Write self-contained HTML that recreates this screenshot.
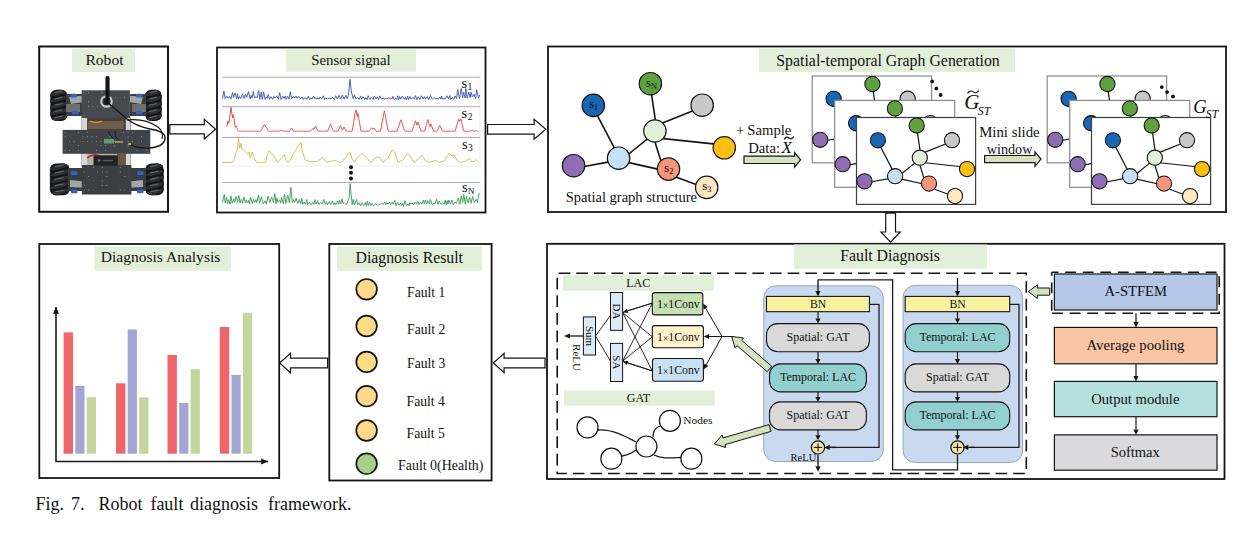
<!DOCTYPE html>
<html><head><meta charset="utf-8"><style>html,body{margin:0;padding:0;background:#fff;width:1256px;height:534px;overflow:hidden}svg{display:block}text{font-family:"Liberation Serif",serif}</style></head>
<body><svg width="1256" height="534" viewBox="0 0 1256 534" font-family='"Liberation Serif", serif'>
<rect x="0" y="0" width="1256" height="534" fill="#ffffff"/>
<rect x="39.2" y="46.5" width="128.8" height="165.3" rx="0" fill="none" stroke="#141414" stroke-width="2" />
<rect x="72.0" y="49.0" width="63.0" height="23.0" rx="0" fill="#e2efd9" stroke="none" stroke-width="0" />
<text x="85.4" y="64.5" font-size="15.6" text-anchor="start" fill="#111111" >Robot</text>
<rect x="81" y="117" width="50" height="49" fill="#4a3e32"/>
<rect x="88" y="121" width="36" height="8" fill="#6e5d4a"/>
<rect x="81.2" y="117" width="5.9" height="49" fill="#d6d7da"/>
<rect x="125.8" y="117" width="4.9" height="49" fill="#d6d7da"/>
<rect x="87" y="153" width="38" height="12" fill="#b9b2a6"/>
<rect x="117" y="154" width="8" height="11" fill="#6b5642"/>
<path d="M87 158 Q93 153 100 156" fill="none" stroke="#c0302a" stroke-width="1.6"/>
<path d="M90 121 Q96 124 102 121" fill="none" stroke="#d0a030" stroke-width="1.2"/>
<clipPath id="wc1"><rect x="50.3" y="89.7" width="17.10000000000001" height="31.299999999999997" rx="6"/></clipPath>
<rect x="50.3" y="89.7" width="17.10000000000001" height="31.299999999999997" rx="6" fill="#1b1c1e"/>
<g clip-path="url(#wc1)">
<ellipse cx="58.9" cy="92.8" rx="9.4" ry="2.8" transform="rotate(-15 58.9 92.8)" fill="#2e2f33" stroke="#0e0e0e" stroke-width="0.7"/>
<path d="M54.6 92.7 L62.3 91.1" stroke="#6a6c70" stroke-width="1.0"/>
<ellipse cx="58.9" cy="99.1" rx="9.4" ry="2.8" transform="rotate(-15 58.9 99.1)" fill="#2e2f33" stroke="#0e0e0e" stroke-width="0.7"/>
<path d="M54.6 99.0 L62.3 97.3" stroke="#6a6c70" stroke-width="1.0"/>
<ellipse cx="58.9" cy="105.3" rx="9.4" ry="2.8" transform="rotate(-15 58.9 105.3)" fill="#2e2f33" stroke="#0e0e0e" stroke-width="0.7"/>
<path d="M54.6 105.2 L62.3 103.6" stroke="#6a6c70" stroke-width="1.0"/>
<ellipse cx="58.9" cy="111.6" rx="9.4" ry="2.8" transform="rotate(-15 58.9 111.6)" fill="#2e2f33" stroke="#0e0e0e" stroke-width="0.7"/>
<path d="M54.6 111.5 L62.3 109.9" stroke="#6a6c70" stroke-width="1.0"/>
<ellipse cx="58.9" cy="117.9" rx="9.4" ry="2.8" transform="rotate(-15 58.9 117.9)" fill="#2e2f33" stroke="#0e0e0e" stroke-width="0.7"/>
<path d="M54.6 117.7 L62.3 116.1" stroke="#6a6c70" stroke-width="1.0"/>
</g>
<clipPath id="wc2"><rect x="145.2" y="89.7" width="16.5" height="31.299999999999997" rx="6"/></clipPath>
<rect x="145.2" y="89.7" width="16.5" height="31.299999999999997" rx="6" fill="#1b1c1e"/>
<g clip-path="url(#wc2)">
<ellipse cx="153.4" cy="92.8" rx="9.1" ry="2.8" transform="rotate(-15 153.4 92.8)" fill="#2e2f33" stroke="#0e0e0e" stroke-width="0.7"/>
<path d="M149.3 92.7 L156.8 91.1" stroke="#6a6c70" stroke-width="1.0"/>
<ellipse cx="153.4" cy="99.1" rx="9.1" ry="2.8" transform="rotate(-15 153.4 99.1)" fill="#2e2f33" stroke="#0e0e0e" stroke-width="0.7"/>
<path d="M149.3 99.0 L156.8 97.3" stroke="#6a6c70" stroke-width="1.0"/>
<ellipse cx="153.4" cy="105.3" rx="9.1" ry="2.8" transform="rotate(-15 153.4 105.3)" fill="#2e2f33" stroke="#0e0e0e" stroke-width="0.7"/>
<path d="M149.3 105.2 L156.8 103.6" stroke="#6a6c70" stroke-width="1.0"/>
<ellipse cx="153.4" cy="111.6" rx="9.1" ry="2.8" transform="rotate(-15 153.4 111.6)" fill="#2e2f33" stroke="#0e0e0e" stroke-width="0.7"/>
<path d="M149.3 111.5 L156.8 109.9" stroke="#6a6c70" stroke-width="1.0"/>
<ellipse cx="153.4" cy="117.9" rx="9.1" ry="2.8" transform="rotate(-15 153.4 117.9)" fill="#2e2f33" stroke="#0e0e0e" stroke-width="0.7"/>
<path d="M149.3 117.7 L156.8 116.1" stroke="#6a6c70" stroke-width="1.0"/>
</g>
<clipPath id="wc3"><rect x="49.9" y="163.6" width="19.699999999999996" height="31.599999999999994" rx="6"/></clipPath>
<rect x="49.9" y="163.6" width="19.699999999999996" height="31.599999999999994" rx="6" fill="#1b1c1e"/>
<g clip-path="url(#wc3)">
<ellipse cx="59.8" cy="166.8" rx="10.8" ry="2.8" transform="rotate(-15 59.8 166.8)" fill="#2e2f33" stroke="#0e0e0e" stroke-width="0.7"/>
<path d="M54.8 166.6 L63.7 165.0" stroke="#6a6c70" stroke-width="1.0"/>
<ellipse cx="59.8" cy="173.1" rx="10.8" ry="2.8" transform="rotate(-15 59.8 173.1)" fill="#2e2f33" stroke="#0e0e0e" stroke-width="0.7"/>
<path d="M54.8 173.0 L63.7 171.3" stroke="#6a6c70" stroke-width="1.0"/>
<ellipse cx="59.8" cy="179.4" rx="10.8" ry="2.8" transform="rotate(-15 59.8 179.4)" fill="#2e2f33" stroke="#0e0e0e" stroke-width="0.7"/>
<path d="M54.8 179.3 L63.7 177.6" stroke="#6a6c70" stroke-width="1.0"/>
<ellipse cx="59.8" cy="185.7" rx="10.8" ry="2.8" transform="rotate(-15 59.8 185.7)" fill="#2e2f33" stroke="#0e0e0e" stroke-width="0.7"/>
<path d="M54.8 185.6 L63.7 184.0" stroke="#6a6c70" stroke-width="1.0"/>
<ellipse cx="59.8" cy="192.0" rx="10.8" ry="2.8" transform="rotate(-15 59.8 192.0)" fill="#2e2f33" stroke="#0e0e0e" stroke-width="0.7"/>
<path d="M54.8 191.9 L63.7 190.3" stroke="#6a6c70" stroke-width="1.0"/>
</g>
<clipPath id="wc4"><rect x="145.4" y="163.6" width="18.299999999999983" height="31.599999999999994" rx="6"/></clipPath>
<rect x="145.4" y="163.6" width="18.299999999999983" height="31.599999999999994" rx="6" fill="#1b1c1e"/>
<g clip-path="url(#wc4)">
<ellipse cx="154.6" cy="166.8" rx="10.1" ry="2.8" transform="rotate(-15 154.6 166.8)" fill="#2e2f33" stroke="#0e0e0e" stroke-width="0.7"/>
<path d="M150.0 166.6 L158.2 165.0" stroke="#6a6c70" stroke-width="1.0"/>
<ellipse cx="154.6" cy="173.1" rx="10.1" ry="2.8" transform="rotate(-15 154.6 173.1)" fill="#2e2f33" stroke="#0e0e0e" stroke-width="0.7"/>
<path d="M150.0 173.0 L158.2 171.3" stroke="#6a6c70" stroke-width="1.0"/>
<ellipse cx="154.6" cy="179.4" rx="10.1" ry="2.8" transform="rotate(-15 154.6 179.4)" fill="#2e2f33" stroke="#0e0e0e" stroke-width="0.7"/>
<path d="M150.0 179.3 L158.2 177.6" stroke="#6a6c70" stroke-width="1.0"/>
<ellipse cx="154.6" cy="185.7" rx="10.1" ry="2.8" transform="rotate(-15 154.6 185.7)" fill="#2e2f33" stroke="#0e0e0e" stroke-width="0.7"/>
<path d="M150.0 185.6 L158.2 184.0" stroke="#6a6c70" stroke-width="1.0"/>
<ellipse cx="154.6" cy="192.0" rx="10.1" ry="2.8" transform="rotate(-15 154.6 192.0)" fill="#2e2f33" stroke="#0e0e0e" stroke-width="0.7"/>
<path d="M150.0 191.9 L158.2 190.3" stroke="#6a6c70" stroke-width="1.0"/>
</g>
<path d="M66 94 L82 94 L82 116 L66 116 Z" fill="#3a3c40"/>
<path d="M69 97 L89 95 L90 101 L71 104 Z" fill="#a3a5a8"/>
<path d="M66 104 L80 104 L80 112 L66 112 Z" fill="#6d6f73"/>
<path d="M130 94 L146 94 L146 116 L130 116 Z" fill="#3a3c40"/>
<path d="M124 95 L143 97 L141 104 L123 101 Z" fill="#a3a5a8"/>
<path d="M132 104 L146 104 L146 112 L132 112 Z" fill="#6d6f73"/>
<path d="M68 168 L82 168 L82 191 L68 191 Z" fill="#3a3c40"/>
<path d="M70 180 L88 182 L88 188 L70 187 Z" fill="#a3a5a8"/>
<path d="M131 168 L146 168 L146 191 L131 191 Z" fill="#3a3c40"/>
<path d="M124 182 L143 180 L143 187 L124 188 Z" fill="#a3a5a8"/>
<rect x="70.4" y="93.8" width="6.5" height="3.6" rx="1.2" fill="#2f66c4"/>
<rect x="72" y="111" width="6.5" height="3.6" rx="1.2" fill="#2f66c4"/>
<rect x="136" y="93.8" width="6.5" height="3.6" rx="1.2" fill="#2f66c4"/>
<rect x="136" y="111" width="6.5" height="3.6" rx="1.2" fill="#2f66c4"/>
<rect x="71" y="171.3" width="6.5" height="3.6" rx="1.2" fill="#2f66c4"/>
<rect x="71" y="189.6" width="6.5" height="3.6" rx="1.2" fill="#2f66c4"/>
<rect x="137" y="171.3" width="6.5" height="3.6" rx="1.2" fill="#2f66c4"/>
<rect x="137" y="189.6" width="6.5" height="3.6" rx="1.2" fill="#2f66c4"/>
<rect x="81.6" y="90.3" width="48.3" height="27.7" fill="#46494e"/>
<rect x="81.8" y="165" width="49.6" height="29.5" fill="#3c3f44"/>
<rect x="62.6" y="129.9" width="87.7" height="23.9" fill="#404348"/>
<rect x="83.6" y="92.3" width="0.9" height="0.9" fill="#9a9da2"/>
<rect x="83.6" y="114.8" width="0.9" height="0.9" fill="#9a9da2"/>
<rect x="88.1" y="92.3" width="0.9" height="0.9" fill="#9a9da2"/>
<rect x="88.1" y="101.3" width="0.9" height="0.9" fill="#9a9da2"/>
<rect x="88.1" y="105.8" width="0.9" height="0.9" fill="#9a9da2"/>
<rect x="92.6" y="105.8" width="0.9" height="0.9" fill="#9a9da2"/>
<rect x="97.1" y="105.8" width="0.9" height="0.9" fill="#9a9da2"/>
<rect x="101.6" y="92.3" width="0.9" height="0.9" fill="#9a9da2"/>
<rect x="101.6" y="96.8" width="0.9" height="0.9" fill="#9a9da2"/>
<rect x="110.6" y="96.8" width="0.9" height="0.9" fill="#9a9da2"/>
<rect x="110.6" y="101.3" width="0.9" height="0.9" fill="#9a9da2"/>
<rect x="110.6" y="105.8" width="0.9" height="0.9" fill="#9a9da2"/>
<rect x="115.1" y="96.8" width="0.9" height="0.9" fill="#9a9da2"/>
<rect x="124.1" y="96.8" width="0.9" height="0.9" fill="#9a9da2"/>
<rect x="83.8" y="171.5" width="0.9" height="0.9" fill="#9a9da2"/>
<rect x="83.8" y="185.0" width="0.9" height="0.9" fill="#9a9da2"/>
<rect x="83.8" y="189.5" width="0.9" height="0.9" fill="#9a9da2"/>
<rect x="88.3" y="176.0" width="0.9" height="0.9" fill="#9a9da2"/>
<rect x="88.3" y="189.5" width="0.9" height="0.9" fill="#9a9da2"/>
<rect x="92.8" y="167.0" width="0.9" height="0.9" fill="#9a9da2"/>
<rect x="92.8" y="180.5" width="0.9" height="0.9" fill="#9a9da2"/>
<rect x="92.8" y="189.5" width="0.9" height="0.9" fill="#9a9da2"/>
<rect x="97.3" y="171.5" width="0.9" height="0.9" fill="#9a9da2"/>
<rect x="101.8" y="167.0" width="0.9" height="0.9" fill="#9a9da2"/>
<rect x="101.8" y="171.5" width="0.9" height="0.9" fill="#9a9da2"/>
<rect x="101.8" y="180.5" width="0.9" height="0.9" fill="#9a9da2"/>
<rect x="101.8" y="185.0" width="0.9" height="0.9" fill="#9a9da2"/>
<rect x="106.3" y="171.5" width="0.9" height="0.9" fill="#9a9da2"/>
<rect x="106.3" y="176.0" width="0.9" height="0.9" fill="#9a9da2"/>
<rect x="106.3" y="185.0" width="0.9" height="0.9" fill="#9a9da2"/>
<rect x="119.8" y="167.0" width="0.9" height="0.9" fill="#9a9da2"/>
<rect x="119.8" y="171.5" width="0.9" height="0.9" fill="#9a9da2"/>
<rect x="119.8" y="189.5" width="0.9" height="0.9" fill="#9a9da2"/>
<rect x="124.3" y="176.0" width="0.9" height="0.9" fill="#9a9da2"/>
<rect x="124.3" y="189.5" width="0.9" height="0.9" fill="#9a9da2"/>
<rect x="64.6" y="131.9" width="0.9" height="0.9" fill="#9a9da2"/>
<rect x="64.6" y="136.4" width="0.9" height="0.9" fill="#9a9da2"/>
<rect x="64.6" y="149.9" width="0.9" height="0.9" fill="#9a9da2"/>
<rect x="69.1" y="140.9" width="0.9" height="0.9" fill="#9a9da2"/>
<rect x="69.1" y="149.9" width="0.9" height="0.9" fill="#9a9da2"/>
<rect x="73.6" y="140.9" width="0.9" height="0.9" fill="#9a9da2"/>
<rect x="78.1" y="131.9" width="0.9" height="0.9" fill="#9a9da2"/>
<rect x="78.1" y="145.4" width="0.9" height="0.9" fill="#9a9da2"/>
<rect x="78.1" y="149.9" width="0.9" height="0.9" fill="#9a9da2"/>
<rect x="82.6" y="136.4" width="0.9" height="0.9" fill="#9a9da2"/>
<rect x="82.6" y="140.9" width="0.9" height="0.9" fill="#9a9da2"/>
<rect x="87.1" y="131.9" width="0.9" height="0.9" fill="#9a9da2"/>
<rect x="87.1" y="136.4" width="0.9" height="0.9" fill="#9a9da2"/>
<rect x="87.1" y="140.9" width="0.9" height="0.9" fill="#9a9da2"/>
<rect x="91.6" y="136.4" width="0.9" height="0.9" fill="#9a9da2"/>
<rect x="91.6" y="140.9" width="0.9" height="0.9" fill="#9a9da2"/>
<rect x="96.1" y="136.4" width="0.9" height="0.9" fill="#9a9da2"/>
<rect x="96.1" y="140.9" width="0.9" height="0.9" fill="#9a9da2"/>
<rect x="96.1" y="149.9" width="0.9" height="0.9" fill="#9a9da2"/>
<rect x="100.6" y="140.9" width="0.9" height="0.9" fill="#9a9da2"/>
<rect x="100.6" y="145.4" width="0.9" height="0.9" fill="#9a9da2"/>
<rect x="105.1" y="140.9" width="0.9" height="0.9" fill="#9a9da2"/>
<rect x="105.1" y="145.4" width="0.9" height="0.9" fill="#9a9da2"/>
<rect x="105.1" y="149.9" width="0.9" height="0.9" fill="#9a9da2"/>
<rect x="109.6" y="136.4" width="0.9" height="0.9" fill="#9a9da2"/>
<rect x="109.6" y="140.9" width="0.9" height="0.9" fill="#9a9da2"/>
<rect x="114.1" y="140.9" width="0.9" height="0.9" fill="#9a9da2"/>
<rect x="114.1" y="145.4" width="0.9" height="0.9" fill="#9a9da2"/>
<rect x="123.1" y="131.9" width="0.9" height="0.9" fill="#9a9da2"/>
<rect x="127.6" y="131.9" width="0.9" height="0.9" fill="#9a9da2"/>
<rect x="127.6" y="136.4" width="0.9" height="0.9" fill="#9a9da2"/>
<rect x="127.6" y="140.9" width="0.9" height="0.9" fill="#9a9da2"/>
<rect x="127.6" y="145.4" width="0.9" height="0.9" fill="#9a9da2"/>
<rect x="132.1" y="131.9" width="0.9" height="0.9" fill="#9a9da2"/>
<rect x="132.1" y="140.9" width="0.9" height="0.9" fill="#9a9da2"/>
<rect x="136.6" y="149.9" width="0.9" height="0.9" fill="#9a9da2"/>
<rect x="141.1" y="136.4" width="0.9" height="0.9" fill="#9a9da2"/>
<rect x="141.1" y="140.9" width="0.9" height="0.9" fill="#9a9da2"/>
<rect x="145.6" y="145.4" width="0.9" height="0.9" fill="#9a9da2"/>
<rect x="145.6" y="149.9" width="0.9" height="0.9" fill="#9a9da2"/>
<rect x="104" y="139" width="10" height="4.5" fill="#5f9f6a"/>
<rect x="115" y="141" width="8" height="2" fill="#a08a50"/>
<rect x="93.5" y="155.2" width="24.3" height="10.5" rx="1.5" fill="#232428"/>
<circle cx="99" cy="160.5" r="1.3" fill="#77797d"/>
<rect x="103" y="159.8" width="10" height="1.4" fill="#5a5c60"/>
<circle cx="106.5" cy="101.5" r="6" fill="#2a2c30"/>
<circle cx="106.5" cy="101.5" r="5.2" fill="none" stroke="#c9cbce" stroke-width="2.2"/>
<circle cx="106.5" cy="101.5" r="2.2" fill="#151515"/>
<rect x="105.4" y="76.1" width="4.2" height="25" rx="1.8" fill="#141414"/>
<path d="M107 102 L127 119 Q136 126 150 129 Q164 131 165 137 Q166 146 150 148 Q138 149 129 144" fill="none" stroke="#151515" stroke-width="1.4"/>
<path d="M127 120 Q145 118 158 127 Q164 132 162 139" fill="none" stroke="#151515" stroke-width="1.1"/>
<path d="M108 131 Q110 136 114 139 M115 131 Q114 136 118 140" fill="none" stroke="#151515" stroke-width="0.9"/>
<rect x="128" y="143" width="3" height="2" fill="#c8a040"/>
<polygon points="169.8,133.8 204.3,133.8 204.3,139.0 215.6,129.2 204.3,119.4 204.3,124.6 169.8,124.6" fill="#fff" stroke="#141414" stroke-width="1.2" stroke-linejoin="miter" />
<rect x="217.0" y="47.5" width="268.5" height="165.0" rx="0" fill="none" stroke="#141414" stroke-width="1.8" />
<rect x="286.0" y="49.3" width="130.0" height="22.5" rx="0" fill="#e2efd9" stroke="none" stroke-width="0" />
<text x="311.3" y="64.9" font-size="14.8" text-anchor="start" fill="#111111" >Sensor signal</text>
<rect x="222.5" y="77.2" width="257.5" height="29.0" fill="#fefefe" stroke="#eeeeee" stroke-width="0.8"/>
<line x1="222.5" y1="77.2" x2="480" y2="77.2" stroke="#a8a8a8" stroke-width="0.9"/>
<rect x="222.5" y="106.7" width="257.5" height="30.10000000000001" fill="#fefefe" stroke="#eeeeee" stroke-width="0.8"/>
<line x1="222.5" y1="106.7" x2="480" y2="106.7" stroke="#a8a8a8" stroke-width="0.9"/>
<rect x="222.5" y="137.5" width="257.5" height="28.5" fill="#fefefe" stroke="#eeeeee" stroke-width="0.8"/>
<line x1="222.5" y1="137.5" x2="480" y2="137.5" stroke="#a8a8a8" stroke-width="0.9"/>
<rect x="222.5" y="182.5" width="257.5" height="26.0" fill="#fefefe" stroke="#eeeeee" stroke-width="0.8"/>
<line x1="222.5" y1="182.5" x2="480" y2="182.5" stroke="#a8a8a8" stroke-width="0.9"/>
<polyline points="222.5,98.6 223.9,91.0 225.2,98.5 226.7,95.9 228.0,98.3 229.7,96.3 230.8,99.2 232.5,92.6 233.4,97.6 235.2,92.9 236.7,99.1 237.5,93.8 238.4,99.1 239.5,96.6 240.8,98.6 242.5,93.8 244.0,98.5 245.5,94.2 246.6,97.6 248.5,91.6 250.1,98.8 251.2,95.3 252.0,98.0 253.3,91.5 254.5,97.7 256.2,96.7 257.3,97.8 258.6,90.5 259.8,99.3 261.3,92.0 262.4,99.5 263.6,91.8 265.2,99.4 266.3,96.8 267.2,98.3 268.2,94.4 269.5,99.3 271.1,96.7 272.6,99.4 273.8,96.3 274.9,98.0 276.6,95.9 278.4,99.3 279.6,92.6 281.1,99.4 283.0,96.3 284.1,98.4 285.3,95.9 286.1,99.5 287.6,96.2 289.0,99.0 290.3,91.9 291.7,98.7 293.4,96.5 294.4,98.1 296.1,96.1 297.1,98.4 298.9,96.4 300.8,98.7 302.2,96.9 303.2,99.6 305.0,97.5 306.6,99.3 308.3,96.2 309.4,99.4 311.0,98.0 312.0,99.0 313.8,96.1 314.9,98.7 315.9,98.1 317.0,99.2 317.9,97.7 319.1,99.0 320.1,97.1 321.8,98.6 323.3,95.9 324.8,99.5 325.6,98.1 327.4,98.9 329.3,98.1 330.8,99.1 332.4,97.2 334.3,99.5 335.7,95.7 337.4,98.9 339.0,95.4 340.8,99.2 342.4,95.0 344.1,99.2 345.8,95.2 347.2,98.6 348.4,95.3 349.9,80.6 350.0,79.3 351.4,92.0 353.2,98.5 354.4,95.0 355.8,98.8 357.5,97.5 359.2,99.3 360.6,96.1 361.7,99.2 363.0,96.7 364.8,99.6 365.7,97.7 367.2,99.6 368.2,95.7 369.7,99.4 371.5,97.6 373.0,99.6 374.3,96.0 376.1,99.0 377.3,96.8 378.5,99.7 379.8,95.9 381.5,99.2 383.4,97.8 384.4,99.4 385.5,98.0 386.7,99.2 388.1,97.7 389.8,98.9 391.1,98.3 391.9,99.0 392.8,96.4 394.2,99.5 395.9,98.4 396.8,99.4 397.7,95.9 398.7,99.7 399.6,96.6 400.9,99.2 402.4,96.0 404.3,99.2 405.3,97.2 406.3,99.8 407.6,96.3 408.6,99.6 409.8,96.4 411.2,99.2 412.8,97.4 414.5,99.0 415.4,95.6 416.9,99.7 418.2,96.7 420.0,99.5 421.5,95.8 423.1,99.0 424.4,96.6 425.5,99.2 427.2,96.6 428.8,99.6 430.5,95.4 432.4,99.3 434.1,97.6 435.9,99.0 437.0,98.3 438.3,99.3 440.0,97.1 440.8,99.1 441.7,96.0 442.7,99.5 444.3,98.2 445.3,99.3 446.9,95.9 448.5,98.9 449.8,95.5 450.7,99.6 452.1,97.7 453.7,99.2 455.1,95.9 456.5,98.5 457.7,89.6 459.5,98.7 461.2,88.5 462.6,97.9 463.6,92.3 465.0,97.9 465.8,88.5 467.2,98.3 468.8,92.0 470.2,97.7 471.1,92.2 472.3,97.1 474.1,94.3 475.5,98.9 476.7,89.9 478.5,98.2 479.7,94.8" fill="none" stroke="#3a55ad" stroke-width="0.9" stroke-linejoin="round"/>
<polyline points="226.7,126.7 228.0,121.0 228.5,123.3 229.0,122.2 229.5,118.5 230.0,114.8 230.5,111.0 231.0,107.3 231.5,111.0 232.0,114.8 232.5,117.9 233.0,114.4 233.5,115.1 234.0,118.6 234.5,122.1 235.0,125.6 235.5,127.2 236.0,126.0 236.5,127.2 237.0,128.4 237.5,129.5 238.0,130.7 238.5,131.2 239.0,131.2 239.5,131.2 240.0,131.2 240.5,131.2 241.0,131.2 241.5,131.2 242.0,131.2 242.5,131.2 243.0,131.2 243.5,131.2 244.0,131.2 244.5,131.2 245.0,131.2 245.5,131.2 246.0,131.2 246.5,131.2 247.0,131.2 247.5,131.2 248.0,131.2 248.5,131.2 249.0,131.2 249.5,131.2 250.0,131.2 250.5,131.2 251.0,131.2 251.5,131.2 252.0,131.2 252.5,131.2 253.0,131.2 253.5,131.2 254.0,131.2 254.5,131.2 255.0,131.2 255.5,131.2 256.0,131.2 256.5,131.2 257.0,131.2 257.5,131.2 258.0,131.2 258.5,131.2 259.0,131.2 259.5,131.2 260.0,131.2 260.5,131.2 261.0,130.4 261.5,129.5 262.0,128.7 262.5,127.8 263.0,127.0 263.5,126.2 264.0,125.3 264.5,124.5 265.0,125.3 265.5,126.2 266.0,127.0 266.5,127.8 267.0,128.7 267.5,129.5 268.0,130.4 268.5,131.2 269.0,131.2 269.5,131.2 270.0,131.2 270.5,131.2 271.0,131.2 271.5,131.2 272.0,131.2 272.5,131.2 273.0,131.2 273.5,131.2 274.0,131.2 274.5,131.2 275.0,131.2 275.5,131.2 276.0,131.2 276.5,131.2 277.0,131.2 277.5,131.2 278.0,131.2 278.5,131.2 279.0,131.2 279.5,130.9 280.0,130.6 280.5,130.3 281.0,130.0 281.5,130.3 282.0,130.6 282.5,130.9 283.0,131.2 283.5,131.2 284.0,131.2 284.5,131.2 285.0,131.2 285.5,131.2 286.0,131.2 286.5,131.2 287.0,131.2 287.5,131.2 288.0,131.2 288.5,131.2 289.0,131.2 289.5,131.2 290.0,130.4 290.5,129.6 291.0,128.8 291.5,128.0 292.0,128.8 292.5,129.6 293.0,130.4 293.5,131.2 294.0,131.2 294.5,131.2 295.0,131.2 295.5,131.2 296.0,131.2 296.5,131.2 297.0,131.2 297.5,131.2 298.0,131.2 298.5,131.2 299.0,131.2 299.5,131.2 300.0,131.2 300.5,131.2 301.0,131.2 301.5,131.2 302.0,131.2 302.5,131.2 303.0,131.2 303.5,131.2 304.0,131.2 304.5,131.2 305.0,131.2 305.5,131.2 306.0,131.2 306.5,131.2 307.0,131.2 307.5,131.2 308.0,131.2 308.5,131.2 309.0,131.2 309.5,131.2 310.0,131.2 310.5,131.2 311.0,130.7 311.5,130.1 312.0,129.6 312.5,129.0 313.0,128.5 313.5,129.0 314.0,129.1 314.5,128.1 315.0,127.0 315.5,126.0 316.0,127.0 316.5,128.1 317.0,129.1 317.5,130.2 318.0,131.2 318.5,131.2 319.0,131.2 319.5,131.2 320.0,131.2 320.5,131.2 321.0,131.2 321.5,131.2 322.0,131.2 322.5,131.2 323.0,131.2 323.5,131.2 324.0,131.2 324.5,131.2 325.0,131.2 325.5,131.2 326.0,131.2 326.5,131.2 327.0,131.2 327.5,131.2 328.0,130.4 328.5,129.1 329.0,127.9 329.5,126.6 330.0,125.3 330.5,124.0 331.0,125.3 331.5,126.6 332.0,127.9 332.5,129.1 333.0,130.4 333.5,131.2 334.0,131.2 334.5,131.2 335.0,131.2 335.5,131.2 336.0,131.2 336.5,131.2 337.0,131.2 337.5,131.2 338.0,131.2 338.5,130.1 339.0,128.9 339.5,127.8 340.0,126.6 340.5,125.5 341.0,126.6 341.5,127.8 342.0,128.9 342.5,130.1 343.0,129.1 343.5,128.1 344.0,127.0 344.5,128.1 345.0,129.1 345.5,130.1 346.0,131.2 346.5,131.2 347.0,131.2 347.5,131.2 348.0,131.2 348.5,131.2 349.0,131.2 349.5,131.2 350.0,131.2 350.5,131.2 351.0,131.2 351.5,131.2 352.0,131.2 352.5,129.9 353.0,126.7 353.5,123.4 354.0,120.2 354.5,116.9 355.0,113.7 355.5,110.4 356.0,109.8 356.5,113.0 357.0,116.3 357.5,116.5 358.0,113.5 358.5,116.5 359.0,119.4 359.5,122.3 360.0,125.3 360.5,128.2 361.0,131.2 361.5,131.2 362.0,131.2 362.5,131.2 363.0,131.2 363.5,131.2 364.0,131.2 364.5,131.2 365.0,131.2 365.5,131.2 366.0,131.2 366.5,131.2 367.0,131.2 367.5,131.2 368.0,131.2 368.5,131.2 369.0,131.2 369.5,130.8 370.0,130.0 370.5,129.3 371.0,128.5 371.5,127.8 372.0,127.9 372.5,128.7 373.0,129.4 373.5,128.8 374.0,128.0 374.5,128.8 375.0,129.6 375.5,130.4 376.0,131.2 376.5,131.2 377.0,131.2 377.5,131.2 378.0,131.2 378.5,131.2 379.0,131.2 379.5,131.2 380.0,131.2 380.5,131.2 381.0,129.0 381.5,126.2 382.0,123.5 382.5,120.7 383.0,118.0 383.5,115.2 384.0,112.5 384.5,110.9 385.0,113.6 385.5,116.4 386.0,119.1 386.5,121.9 387.0,124.6 387.5,127.4 388.0,130.1 388.5,131.2 389.0,131.2 389.5,131.2 390.0,131.2 390.5,131.2 391.0,131.2 391.5,131.2 392.0,131.2 392.5,131.2 393.0,131.2 393.5,131.2 394.0,131.2 394.5,131.2 395.0,131.2 395.5,131.2 396.0,131.2 396.5,131.2 397.0,131.2 397.5,130.0 398.0,128.5 398.5,126.9 399.0,125.4 399.5,123.9 400.0,122.3 400.5,120.8 401.0,119.9 401.5,121.4 402.0,123.0 402.5,124.5 403.0,126.0 403.5,127.5 404.0,129.1 404.5,130.6 405.0,131.2 405.5,131.2 406.0,131.2 406.5,131.2 407.0,131.2 407.5,131.2 408.0,131.2 408.5,131.2 409.0,131.2 409.5,131.2 410.0,131.2 410.5,131.2 411.0,131.2 411.5,131.2 412.0,131.2 412.5,129.7 413.0,128.2 413.5,126.7 414.0,125.3 414.5,123.8 415.0,122.3 415.5,120.8 416.0,122.3 416.5,123.8 417.0,125.1 417.5,123.5 418.0,122.0 418.5,123.5 419.0,125.1 419.5,126.6 420.0,128.1 420.5,129.7 421.0,131.2 421.5,131.2 422.0,131.2 422.5,131.2 423.0,131.2 423.5,131.2 424.0,131.2 424.5,131.2 425.0,130.1 425.5,128.2 426.0,126.3 426.5,124.4 427.0,122.6 427.5,120.7 428.0,119.6 428.5,121.5 429.0,123.3 429.5,125.2 430.0,126.9 430.5,125.4 431.0,124.0 431.5,125.4 432.0,126.9 432.5,128.3 433.0,129.8 433.5,131.2 434.0,131.2 434.5,131.2 435.0,131.2 435.5,131.2 436.0,131.2 436.5,131.2 437.0,131.2 437.5,130.5 438.0,129.3 438.5,128.1 439.0,126.9 439.5,125.7 440.0,125.5 440.5,126.7 441.0,127.9 441.5,129.1 442.0,130.2 442.5,131.2 443.0,131.2 443.5,131.2 444.0,131.2 444.5,131.2 445.0,131.2 445.5,131.2 446.0,131.2 446.5,131.2 447.0,131.2 447.5,131.2 448.0,131.2 448.5,131.2 449.0,131.2 449.5,131.2 450.0,131.2 450.5,131.2 451.0,131.2 451.5,131.2 452.0,131.2 452.5,131.2 453.0,131.2 453.5,131.2 454.0,131.2 454.5,131.2 455.0,131.2 455.5,129.8 456.0,128.0 456.5,126.3 457.0,124.5 457.5,122.8 458.0,121.0 458.5,119.3 459.0,119.7 459.5,121.4 460.0,121.1 460.5,118.9 461.0,119.3 461.5,121.5 462.0,123.7 462.5,125.9 463.0,128.1 463.5,130.3 464.0,131.2 464.5,131.2 465.0,131.2 465.5,131.2 466.0,131.2 466.5,131.2 467.0,131.2 467.5,131.2 468.0,131.2 468.5,131.2 469.0,131.2 469.5,131.2 470.0,131.2 470.5,131.2 471.0,130.9 471.5,130.5 472.0,130.1 472.5,130.3 473.0,130.7 473.5,131.1 474.0,131.2 474.5,131.2 475.0,131.0 475.5,130.7 476.0,130.5 476.5,130.7 477.0,131.0 477.5,131.2 478.0,131.2" fill="none" stroke="#e8383a" stroke-width="0.9" stroke-linejoin="round"/>
<polyline points="222.1,162.4 232.4,162.4 234.0,160.0 235.7,153.3 237.5,149.7 238.5,138.5 239.7,148.3 241.0,143.4 241.8,148.3 243.9,150.4 248.0,154.0 248.8,151.8 250.2,158.2 252.0,151.8 253.7,156.8 256.5,162.4 265.6,162.4 267.0,155.4 269.1,150.4 271.2,153.3 273.3,154.7 277.6,162.4 281.8,157.5 284.3,154.7 286.0,160.3 288.1,162.4 290.2,159.6 293.7,153.3 297.9,146.2 299.3,144.8 301.0,142.0 302.1,150.4 304.9,159.6 309.8,161.7 316.9,161.7 322.5,157.5 326.7,162.4 335.1,160.3 339.3,162.4 342.0,162.0 345.0,158.2 349.8,152.1 352.5,160.0 354.5,162.4 358.0,157.0 361.8,153.0 366.0,157.5 371.0,162.4 374.0,159.0 377.2,156.8 380.0,158.0 383.0,162.4 388.0,158.0 392.3,149.8 395.0,153.0 398.0,162.4 403.0,160.0 407.4,153.3 410.0,156.0 414.0,162.4 418.0,159.0 422.2,155.4 426.0,161.0 430.0,162.4 434.0,161.0 436.2,160.3 439.0,162.4 444.0,161.0 449.3,153.3 452.0,156.0 454.0,155.0 457.0,160.0 460.0,162.4 465.0,161.5 469.3,158.2 472.0,162.0 474.5,161.0 476.0,159.6 478.8,162.4" fill="none" stroke="#c9c14a" stroke-width="0.9" stroke-linejoin="round"/>
<polyline points="222.5,202.3 224.3,194.3 225.2,203.0 226.5,197.4 227.5,203.9 228.7,199.7 230.0,204.2 230.9,195.9 232.2,203.2 233.8,198.7 234.7,202.6 236.1,196.3 237.6,202.2 238.8,195.5 240.0,203.0 241.5,199.1 242.5,203.3 244.0,196.9 245.3,202.9 246.3,200.0 247.5,202.5 248.5,200.4 249.4,204.2 250.5,197.1 252.2,203.6 253.4,199.3 254.6,202.6 256.0,199.5 256.9,202.6 258.5,194.9 259.6,203.1 261.4,196.9 263.2,203.9 265.1,200.8 266.3,204.2 268.0,196.1 269.9,202.5 271.7,197.3 273.6,202.7 274.8,193.5 276.0,203.9 276.9,197.9 277.9,202.2 279.7,199.8 280.6,203.1 281.6,197.3 283.3,203.7 284.6,194.2 285.9,203.5 287.7,195.0 289.4,202.8 290.7,188.8 290.9,187.2 292.4,202.6 293.5,199.6 294.7,202.4 296.1,198.0 297.8,203.6 299.3,199.4 300.7,203.8 301.8,198.3 302.7,204.2 304.1,202.0 305.5,204.3 306.8,199.6 307.6,204.5 309.3,202.4 311.0,204.7 312.6,202.3 313.9,204.4 314.8,199.7 316.1,204.0 317.5,200.5 318.9,204.6 320.6,202.6 322.4,203.8 323.8,199.3 325.3,204.2 326.4,201.7 327.6,204.6 329.4,201.6 330.7,204.4 332.4,200.9 333.8,204.6 334.9,202.6 335.9,204.6 337.7,200.8 338.6,204.4 339.5,200.4 340.8,203.8 341.9,198.9 343.0,203.6 344.5,202.8 346.2,204.7 347.4,202.8 349.1,198.0 350.1,183.5 350.7,190.7 352.2,204.6 353.1,199.4 354.6,204.8 356.5,199.4 357.5,205.0 359.0,202.8 360.6,205.9 362.2,202.6 363.8,205.5 365.3,202.5 366.4,206.3 367.3,201.2 368.4,206.0 369.5,202.3 370.9,205.5 372.2,203.5 373.7,205.6 375.5,203.7 377.3,205.3 379.1,204.3 380.4,204.2 382.1,203.4 383.3,204.3 384.9,201.8 386.0,204.6 386.9,202.6 388.1,204.2 389.6,202.3 390.6,204.7 392.2,202.2 393.2,204.2 394.6,200.1 396.0,205.8 397.3,202.4 399.1,205.3 400.6,203.2 401.5,205.5 402.7,203.4 403.6,206.5 404.8,200.6 406.4,205.6 408.0,203.8 408.9,205.8 409.8,202.5 411.2,204.3 412.1,203.0 413.5,204.8 415.0,202.2 416.4,204.1 417.9,201.2 418.9,204.6 420.8,202.3 421.9,204.4 423.3,200.0 424.4,203.8 425.3,200.0 426.7,203.9 427.7,200.5 429.5,204.2 430.4,199.4 432.3,204.9 434.0,203.0 434.9,204.0 436.5,199.2 438.0,204.4 439.1,201.0 441.0,204.2 442.7,202.6 444.3,204.1 445.2,199.9 446.2,204.7 447.1,200.6 448.0,203.8 448.9,199.9 450.5,204.3 451.9,200.0 453.4,204.8 455.1,202.0 456.5,203.3 458.3,198.0 460.0,204.3 461.2,195.7 462.7,202.5 463.7,194.4 465.4,204.2 466.3,196.5 468.2,203.0 469.5,197.2 471.2,203.2 472.5,196.4 474.4,202.6 476.1,199.2 477.5,202.5 479.1,193.0" fill="none" stroke="#3a9a55" stroke-width="0.9" stroke-linejoin="round"/>
<circle cx="351.0" cy="167.2" r="2.0" fill="#111" stroke="none" stroke-width="0"/>
<circle cx="351.0" cy="172.7" r="2.0" fill="#111" stroke="none" stroke-width="0"/>
<circle cx="351.0" cy="178.5" r="2.0" fill="#111" stroke="none" stroke-width="0"/>
<text x="461.4" y="87.8" font-size="14.5" text-anchor="start" fill="#111111" >s</text>
<text x="467.5" y="89.6" font-size="9.5" text-anchor="start" fill="#111111" >1</text>
<text x="461.6" y="118.3" font-size="14.5" text-anchor="start" fill="#111111" >s</text>
<text x="467.7" y="120.1" font-size="9.5" text-anchor="start" fill="#111111" >2</text>
<text x="461.9" y="149.0" font-size="14.5" text-anchor="start" fill="#111111" >s</text>
<text x="468.0" y="150.8" font-size="9.5" text-anchor="start" fill="#111111" >3</text>
<text x="461.9" y="191.9" font-size="14.5" text-anchor="start" fill="#111111" >s</text>
<text x="468.0" y="193.7" font-size="9" text-anchor="start" fill="#111111" >N</text>
<polygon points="487.6,134.1 534.1,134.1 534.1,139.2 545.8,129.3 534.1,119.4 534.1,124.5 487.6,124.5" fill="#fff" stroke="#141414" stroke-width="1.2" stroke-linejoin="miter" />
<rect x="548.0" y="46.5" width="678.0" height="165.5" rx="0" fill="none" stroke="#141414" stroke-width="1.8" />
<rect x="759.0" y="48.4" width="256.0" height="23.8" rx="0" fill="#e2efd9" stroke="none" stroke-width="0" />
<text x="776.3" y="65.8" font-size="15.85" text-anchor="start" fill="#111111" >Spatial-temporal Graph Generation</text>
<line x1="596.9" y1="114.7" x2="616.7" y2="152.3" stroke="#141414" stroke-width="1.6" />
<line x1="650.8" y1="89.3" x2="656.2" y2="125.8" stroke="#141414" stroke-width="1.6" />
<line x1="698.0" y1="108.7" x2="657.5" y2="124.9" stroke="#141414" stroke-width="1.6" />
<line x1="658.8" y1="138.1" x2="720.2" y2="144.6" stroke="#141414" stroke-width="1.6" />
<line x1="624.5" y1="157.5" x2="651.5" y2="135.7" stroke="#141414" stroke-width="1.6" />
<line x1="653.2" y1="136.3" x2="662.4" y2="165.8" stroke="#141414" stroke-width="1.6" />
<line x1="613.5" y1="161.1" x2="578.8" y2="167.5" stroke="#141414" stroke-width="1.6" />
<line x1="623.3" y1="161.4" x2="663.2" y2="170.4" stroke="#141414" stroke-width="1.6" />
<line x1="671.2" y1="175.2" x2="702.1" y2="186.8" stroke="#141414" stroke-width="1.6" />
<circle cx="593.3" cy="105.4" r="11.2" fill="#1867b4" stroke="#141414" stroke-width="1.2"/>
<circle cx="650.4" cy="83.7" r="11.2" fill="#5ea23f" stroke="#141414" stroke-width="1.2"/>
<circle cx="702.2" cy="105.2" r="11.2" fill="#c8c8c8" stroke="#141414" stroke-width="1.2"/>
<circle cx="654.9" cy="131.0" r="11.2" fill="#e2efd9" stroke="#141414" stroke-width="1.2"/>
<circle cx="724.3" cy="147.8" r="11.2" fill="#ffbf12" stroke="#141414" stroke-width="1.2"/>
<circle cx="618.6" cy="158.2" r="11.2" fill="#c6e0f5" stroke="#141414" stroke-width="1.2"/>
<circle cx="573.6" cy="165.7" r="11.2" fill="#8f6db4" stroke="#141414" stroke-width="1.2"/>
<circle cx="668.5" cy="169.1" r="11.2" fill="#f59579" stroke="#141414" stroke-width="1.2"/>
<circle cx="706.7" cy="187.4" r="11.2" fill="#fde8c0" stroke="#141414" stroke-width="1.2"/>
<text x="588.9" y="108.4" font-size="13" text-anchor="start" fill="#111111" >s</text>
<text x="593.7" y="110.4" font-size="8.8" text-anchor="start" fill="#111111" >1</text>
<text x="646.0" y="86.7" font-size="13" text-anchor="start" fill="#111111" >s</text>
<text x="650.8" y="88.7" font-size="8.8" text-anchor="start" fill="#111111" >N</text>
<text x="664.1" y="172.1" font-size="13" text-anchor="start" fill="#111111" >s</text>
<text x="668.9" y="174.1" font-size="8.8" text-anchor="start" fill="#111111" >2</text>
<text x="702.3" y="190.4" font-size="13" text-anchor="start" fill="#111111" >s</text>
<text x="707.1" y="192.4" font-size="8.8" text-anchor="start" fill="#111111" >3</text>
<text x="565.7" y="202.4" font-size="14.5" text-anchor="start" fill="#111111" >Spatial graph structure</text>
<text x="736.0" y="134.6" font-size="14.7" text-anchor="start" fill="#111111" >+</text>
<text x="747.3" y="134.6" font-size="14.7" text-anchor="start" fill="#111111" >Sample</text>
<text x="748.2" y="152.6" font-size="14.7" text-anchor="start" fill="#111111" >Data:</text>
<text x="781.5" y="152.6" font-size="17" text-anchor="start" font-style="italic" fill="#111111" >X</text>
<path d="M784.2 139.4 Q786.5 135.8 789 137.9 Q791.5 140 793.8 136.6" fill="none" stroke="#1a1a1a" stroke-width="1.3"/>
<polygon points="744.0,163.5 794.6,163.5 794.6,167.0 800.6,159.8 794.6,152.6 794.6,156.2 744.0,156.2" fill="#d5e2bd" stroke="#141414" stroke-width="1.2" stroke-linejoin="miter" />
<rect x="812.2" y="76.0" width="119.4" height="86.8" rx="0" fill="#fff" stroke="#8a8a8a" stroke-width="1.2" />
<line x1="836.1" y1="105.1" x2="849.5" y2="130.7" stroke="#141414" stroke-width="1.2" />
<line x1="872.7" y1="87.8" x2="876.3" y2="112.7" stroke="#141414" stroke-width="1.2" />
<line x1="904.8" y1="101.0" x2="877.3" y2="112.1" stroke="#141414" stroke-width="1.2" />
<line x1="878.2" y1="121.0" x2="919.9" y2="125.5" stroke="#141414" stroke-width="1.2" />
<line x1="854.8" y1="134.2" x2="873.2" y2="119.4" stroke="#141414" stroke-width="1.2" />
<line x1="874.4" y1="119.8" x2="880.6" y2="139.9" stroke="#141414" stroke-width="1.2" />
<line x1="847.3" y1="136.7" x2="823.7" y2="141.0" stroke="#141414" stroke-width="1.2" />
<line x1="854.0" y1="136.9" x2="881.1" y2="143.0" stroke="#141414" stroke-width="1.2" />
<line x1="886.6" y1="146.3" x2="907.6" y2="154.2" stroke="#141414" stroke-width="1.2" />
<circle cx="833.6" cy="98.8" r="7.6" fill="#1867b4" stroke="#141414" stroke-width="1.1"/>
<circle cx="872.4" cy="84.0" r="7.6" fill="#5ea23f" stroke="#141414" stroke-width="1.1"/>
<circle cx="907.7" cy="98.7" r="7.6" fill="#c8c8c8" stroke="#141414" stroke-width="1.1"/>
<circle cx="875.5" cy="116.2" r="7.6" fill="#e2efd9" stroke="#141414" stroke-width="1.1"/>
<circle cx="922.7" cy="127.6" r="7.6" fill="#ffbf12" stroke="#141414" stroke-width="1.1"/>
<circle cx="850.8" cy="134.7" r="7.6" fill="#c6e0f5" stroke="#141414" stroke-width="1.1"/>
<circle cx="820.2" cy="139.8" r="7.6" fill="#8f6db4" stroke="#141414" stroke-width="1.1"/>
<circle cx="884.7" cy="142.1" r="7.6" fill="#f59579" stroke="#141414" stroke-width="1.1"/>
<circle cx="910.7" cy="154.6" r="7.6" fill="#fde8c0" stroke="#141414" stroke-width="1.1"/>
<rect x="834.7" y="100.4" width="120.0" height="86.9" rx="0" fill="#fff" stroke="#8a8a8a" stroke-width="1.2" />
<line x1="858.6" y1="129.5" x2="872.0" y2="155.1" stroke="#141414" stroke-width="1.2" />
<line x1="895.2" y1="112.2" x2="898.8" y2="137.1" stroke="#141414" stroke-width="1.2" />
<line x1="927.3" y1="125.4" x2="899.8" y2="136.5" stroke="#141414" stroke-width="1.2" />
<line x1="900.7" y1="145.4" x2="942.4" y2="149.9" stroke="#141414" stroke-width="1.2" />
<line x1="877.3" y1="158.6" x2="895.7" y2="143.8" stroke="#141414" stroke-width="1.2" />
<line x1="896.9" y1="144.2" x2="903.1" y2="164.3" stroke="#141414" stroke-width="1.2" />
<line x1="869.8" y1="161.1" x2="846.2" y2="165.4" stroke="#141414" stroke-width="1.2" />
<line x1="876.5" y1="161.3" x2="903.6" y2="167.4" stroke="#141414" stroke-width="1.2" />
<line x1="909.1" y1="170.7" x2="930.1" y2="178.6" stroke="#141414" stroke-width="1.2" />
<circle cx="856.1" cy="123.2" r="7.6" fill="#1867b4" stroke="#141414" stroke-width="1.1"/>
<circle cx="894.9" cy="108.4" r="7.6" fill="#5ea23f" stroke="#141414" stroke-width="1.1"/>
<circle cx="930.2" cy="123.1" r="7.6" fill="#c8c8c8" stroke="#141414" stroke-width="1.1"/>
<circle cx="898.0" cy="140.6" r="7.6" fill="#e2efd9" stroke="#141414" stroke-width="1.1"/>
<circle cx="945.2" cy="152.0" r="7.6" fill="#ffbf12" stroke="#141414" stroke-width="1.1"/>
<circle cx="873.3" cy="159.1" r="7.6" fill="#c6e0f5" stroke="#141414" stroke-width="1.1"/>
<circle cx="842.7" cy="164.2" r="7.6" fill="#8f6db4" stroke="#141414" stroke-width="1.1"/>
<circle cx="907.2" cy="166.5" r="7.6" fill="#f59579" stroke="#141414" stroke-width="1.1"/>
<circle cx="933.2" cy="179.0" r="7.6" fill="#fde8c0" stroke="#141414" stroke-width="1.1"/>
<rect x="856.5" y="117.5" width="119.1" height="86.9" rx="0" fill="#fff" stroke="#404040" stroke-width="1.2" />
<line x1="880.4" y1="146.6" x2="893.8" y2="172.2" stroke="#141414" stroke-width="1.2" />
<line x1="917.0" y1="129.3" x2="920.6" y2="154.2" stroke="#141414" stroke-width="1.2" />
<line x1="949.1" y1="142.5" x2="921.6" y2="153.6" stroke="#141414" stroke-width="1.2" />
<line x1="922.5" y1="162.5" x2="964.2" y2="167.0" stroke="#141414" stroke-width="1.2" />
<line x1="899.1" y1="175.7" x2="917.5" y2="160.9" stroke="#141414" stroke-width="1.2" />
<line x1="918.7" y1="161.3" x2="924.9" y2="181.4" stroke="#141414" stroke-width="1.2" />
<line x1="891.6" y1="178.2" x2="868.0" y2="182.5" stroke="#141414" stroke-width="1.2" />
<line x1="898.3" y1="178.4" x2="925.4" y2="184.5" stroke="#141414" stroke-width="1.2" />
<line x1="930.9" y1="187.8" x2="951.9" y2="195.7" stroke="#141414" stroke-width="1.2" />
<circle cx="877.9" cy="140.3" r="7.6" fill="#1867b4" stroke="#141414" stroke-width="1.1"/>
<circle cx="916.7" cy="125.5" r="7.6" fill="#5ea23f" stroke="#141414" stroke-width="1.1"/>
<circle cx="952.0" cy="140.2" r="7.6" fill="#c8c8c8" stroke="#141414" stroke-width="1.1"/>
<circle cx="919.8" cy="157.7" r="7.6" fill="#e2efd9" stroke="#141414" stroke-width="1.1"/>
<circle cx="967.0" cy="169.1" r="7.6" fill="#ffbf12" stroke="#141414" stroke-width="1.1"/>
<circle cx="895.1" cy="176.2" r="7.6" fill="#c6e0f5" stroke="#141414" stroke-width="1.1"/>
<circle cx="864.5" cy="181.3" r="7.6" fill="#8f6db4" stroke="#141414" stroke-width="1.1"/>
<circle cx="929.0" cy="183.6" r="7.6" fill="#f59579" stroke="#141414" stroke-width="1.1"/>
<circle cx="955.0" cy="196.1" r="7.6" fill="#fde8c0" stroke="#141414" stroke-width="1.1"/>
<circle cx="932.2" cy="81.4" r="1.9" fill="#111" stroke="none" stroke-width="0"/>
<circle cx="936.3" cy="88.5" r="1.9" fill="#111" stroke="none" stroke-width="0"/>
<circle cx="940.6" cy="95.0" r="1.9" fill="#111" stroke="none" stroke-width="0"/>
<rect x="1047.2" y="76.0" width="119.4" height="86.8" rx="0" fill="#fff" stroke="#8a8a8a" stroke-width="1.2" />
<line x1="1071.1" y1="105.1" x2="1084.5" y2="130.7" stroke="#141414" stroke-width="1.2" />
<line x1="1107.7" y1="87.8" x2="1111.3" y2="112.7" stroke="#141414" stroke-width="1.2" />
<line x1="1139.8" y1="101.0" x2="1112.3" y2="112.1" stroke="#141414" stroke-width="1.2" />
<line x1="1113.2" y1="121.0" x2="1154.9" y2="125.5" stroke="#141414" stroke-width="1.2" />
<line x1="1089.8" y1="134.2" x2="1108.2" y2="119.4" stroke="#141414" stroke-width="1.2" />
<line x1="1109.4" y1="119.8" x2="1115.6" y2="139.9" stroke="#141414" stroke-width="1.2" />
<line x1="1082.3" y1="136.7" x2="1058.7" y2="141.0" stroke="#141414" stroke-width="1.2" />
<line x1="1089.0" y1="136.9" x2="1116.1" y2="143.0" stroke="#141414" stroke-width="1.2" />
<line x1="1121.6" y1="146.3" x2="1142.6" y2="154.2" stroke="#141414" stroke-width="1.2" />
<circle cx="1068.6" cy="98.8" r="7.6" fill="#1867b4" stroke="#141414" stroke-width="1.1"/>
<circle cx="1107.4" cy="84.0" r="7.6" fill="#5ea23f" stroke="#141414" stroke-width="1.1"/>
<circle cx="1142.7" cy="98.7" r="7.6" fill="#c8c8c8" stroke="#141414" stroke-width="1.1"/>
<circle cx="1110.5" cy="116.2" r="7.6" fill="#e2efd9" stroke="#141414" stroke-width="1.1"/>
<circle cx="1157.7" cy="127.6" r="7.6" fill="#ffbf12" stroke="#141414" stroke-width="1.1"/>
<circle cx="1085.8" cy="134.7" r="7.6" fill="#c6e0f5" stroke="#141414" stroke-width="1.1"/>
<circle cx="1055.2" cy="139.8" r="7.6" fill="#8f6db4" stroke="#141414" stroke-width="1.1"/>
<circle cx="1119.7" cy="142.1" r="7.6" fill="#f59579" stroke="#141414" stroke-width="1.1"/>
<circle cx="1145.7" cy="154.6" r="7.6" fill="#fde8c0" stroke="#141414" stroke-width="1.1"/>
<rect x="1069.7" y="100.4" width="120.0" height="86.9" rx="0" fill="#fff" stroke="#8a8a8a" stroke-width="1.2" />
<line x1="1093.6" y1="129.5" x2="1107.0" y2="155.1" stroke="#141414" stroke-width="1.2" />
<line x1="1130.2" y1="112.2" x2="1133.8" y2="137.1" stroke="#141414" stroke-width="1.2" />
<line x1="1162.3" y1="125.4" x2="1134.8" y2="136.5" stroke="#141414" stroke-width="1.2" />
<line x1="1135.7" y1="145.4" x2="1177.4" y2="149.9" stroke="#141414" stroke-width="1.2" />
<line x1="1112.3" y1="158.6" x2="1130.7" y2="143.8" stroke="#141414" stroke-width="1.2" />
<line x1="1131.9" y1="144.2" x2="1138.1" y2="164.3" stroke="#141414" stroke-width="1.2" />
<line x1="1104.8" y1="161.1" x2="1081.2" y2="165.4" stroke="#141414" stroke-width="1.2" />
<line x1="1111.5" y1="161.3" x2="1138.6" y2="167.4" stroke="#141414" stroke-width="1.2" />
<line x1="1144.1" y1="170.7" x2="1165.1" y2="178.6" stroke="#141414" stroke-width="1.2" />
<circle cx="1091.1" cy="123.2" r="7.6" fill="#1867b4" stroke="#141414" stroke-width="1.1"/>
<circle cx="1129.9" cy="108.4" r="7.6" fill="#5ea23f" stroke="#141414" stroke-width="1.1"/>
<circle cx="1165.2" cy="123.1" r="7.6" fill="#c8c8c8" stroke="#141414" stroke-width="1.1"/>
<circle cx="1133.0" cy="140.6" r="7.6" fill="#e2efd9" stroke="#141414" stroke-width="1.1"/>
<circle cx="1180.2" cy="152.0" r="7.6" fill="#ffbf12" stroke="#141414" stroke-width="1.1"/>
<circle cx="1108.3" cy="159.1" r="7.6" fill="#c6e0f5" stroke="#141414" stroke-width="1.1"/>
<circle cx="1077.7" cy="164.2" r="7.6" fill="#8f6db4" stroke="#141414" stroke-width="1.1"/>
<circle cx="1142.2" cy="166.5" r="7.6" fill="#f59579" stroke="#141414" stroke-width="1.1"/>
<circle cx="1168.2" cy="179.0" r="7.6" fill="#fde8c0" stroke="#141414" stroke-width="1.1"/>
<rect x="1091.5" y="117.5" width="119.1" height="86.9" rx="0" fill="#fff" stroke="#404040" stroke-width="1.2" />
<line x1="1115.4" y1="146.6" x2="1128.8" y2="172.2" stroke="#141414" stroke-width="1.2" />
<line x1="1152.0" y1="129.3" x2="1155.6" y2="154.2" stroke="#141414" stroke-width="1.2" />
<line x1="1184.1" y1="142.5" x2="1156.6" y2="153.6" stroke="#141414" stroke-width="1.2" />
<line x1="1157.5" y1="162.5" x2="1199.2" y2="167.0" stroke="#141414" stroke-width="1.2" />
<line x1="1134.1" y1="175.7" x2="1152.5" y2="160.9" stroke="#141414" stroke-width="1.2" />
<line x1="1153.7" y1="161.3" x2="1159.9" y2="181.4" stroke="#141414" stroke-width="1.2" />
<line x1="1126.6" y1="178.2" x2="1103.0" y2="182.5" stroke="#141414" stroke-width="1.2" />
<line x1="1133.3" y1="178.4" x2="1160.4" y2="184.5" stroke="#141414" stroke-width="1.2" />
<line x1="1165.9" y1="187.8" x2="1186.9" y2="195.7" stroke="#141414" stroke-width="1.2" />
<circle cx="1112.9" cy="140.3" r="7.6" fill="#1867b4" stroke="#141414" stroke-width="1.1"/>
<circle cx="1151.7" cy="125.5" r="7.6" fill="#5ea23f" stroke="#141414" stroke-width="1.1"/>
<circle cx="1187.0" cy="140.2" r="7.6" fill="#c8c8c8" stroke="#141414" stroke-width="1.1"/>
<circle cx="1154.8" cy="157.7" r="7.6" fill="#e2efd9" stroke="#141414" stroke-width="1.1"/>
<circle cx="1202.0" cy="169.1" r="7.6" fill="#ffbf12" stroke="#141414" stroke-width="1.1"/>
<circle cx="1130.1" cy="176.2" r="7.6" fill="#c6e0f5" stroke="#141414" stroke-width="1.1"/>
<circle cx="1099.5" cy="181.3" r="7.6" fill="#8f6db4" stroke="#141414" stroke-width="1.1"/>
<circle cx="1164.0" cy="183.6" r="7.6" fill="#f59579" stroke="#141414" stroke-width="1.1"/>
<circle cx="1190.0" cy="196.1" r="7.6" fill="#fde8c0" stroke="#141414" stroke-width="1.1"/>
<circle cx="1161.8" cy="87.1" r="1.9" fill="#111" stroke="none" stroke-width="0"/>
<circle cx="1167.1" cy="92.1" r="1.9" fill="#111" stroke="none" stroke-width="0"/>
<circle cx="1173.0" cy="96.4" r="1.9" fill="#111" stroke="none" stroke-width="0"/>
<text x="964.3" y="109.3" font-size="21" text-anchor="start" font-style="italic" fill="#111111" >G</text>
<path d="M967.5 93.4 Q970.3 89.6 973.2 91.9 Q976 94.2 978.8 90.6" fill="none" stroke="#1a1a1a" stroke-width="1.1"/>
<text x="977.8" y="115.0" font-size="12" text-anchor="start" font-style="italic" fill="#111111" >ST</text>
<text x="1193.3" y="112.7" font-size="18.5" text-anchor="start" font-style="italic" fill="#111111" >G</text>
<text x="1205.8" y="117.5" font-size="11.8" text-anchor="start" font-style="italic" fill="#111111" >ST</text>
<text x="979.2" y="137.0" font-size="14.8" text-anchor="start" fill="#111111" >Mini slide</text>
<text x="986.7" y="154.4" font-size="14.2" text-anchor="start" fill="#111111" >window</text>
<polygon points="984.6,162.7 1035.0,162.7 1035.0,166.3 1041.0,159.1 1035.0,151.9 1035.0,155.5 984.6,155.5" fill="#d5e2bd" stroke="#141414" stroke-width="1.2" stroke-linejoin="miter" />
<polygon points="885.7,213.2 885.7,232.0 881.0,232.0 890.6,242.2 900.2,232.0 895.5,232.0 895.5,213.2" fill="#fff" stroke="#141414" stroke-width="1.2" stroke-linejoin="miter" />
<rect x="547.0" y="243.8" width="677.5" height="235.2" rx="0" fill="none" stroke="#141414" stroke-width="1.8" />
<rect x="794.0" y="244.5" width="193.0" height="24.2" rx="0" fill="#e2efd9" stroke="none" stroke-width="0" />
<text x="840.2" y="260.8" font-size="15.8" text-anchor="start" fill="#111111" >Fault Diagnosis</text>
<rect x="557.2" y="273.2" width="469.1" height="200.3" fill="none" stroke="#141414" stroke-width="1.6" stroke-dasharray="11.7 5.916" stroke-dashoffset="16.216"/>
<rect x="563.1" y="275.1" width="150.9" height="15.8" rx="0" fill="#e2efd9" stroke="none" stroke-width="0" />
<text x="626.2" y="287.0" font-size="12" text-anchor="start" fill="#111111" >LAC</text>
<rect x="564.0" y="390.3" width="150.8" height="15.4" rx="0" fill="#e2efd9" stroke="none" stroke-width="0" />
<text x="638.4" y="401.9" font-size="12" text-anchor="middle" fill="#111111" >GAT</text>
<rect x="610.5" y="292.5" width="12.1" height="37.8" rx="0" fill="#dce9f6" stroke="#141414" stroke-width="1.0" />
<rect x="610.5" y="343.4" width="12.1" height="38.1" rx="0" fill="#dce9f6" stroke="#141414" stroke-width="1.0" />
<rect x="583.4" y="316.9" width="12.1" height="38.1" rx="0" fill="#dce9f6" stroke="#141414" stroke-width="1.0" />
<text x="616.5" y="311.4" font-size="11" text-anchor="middle" fill="#111111" transform="rotate(90 616.5 311.4)" dominant-baseline="central">DA</text>
<text x="616.5" y="362.4" font-size="11" text-anchor="middle" fill="#111111" transform="rotate(90 616.5 362.4)" dominant-baseline="central">SA</text>
<text x="589.5" y="336.0" font-size="11" text-anchor="middle" fill="#111111" transform="rotate(90 589.5 336.0)" dominant-baseline="central">Sum</text>
<text x="576.5" y="357.5" font-size="11" text-anchor="middle" fill="#111111" transform="rotate(90 576.5 357.5)" dominant-baseline="central">ReLU</text>
<line x1="583.4" y1="336.0" x2="570.0" y2="336.0" stroke="#141414" stroke-width="1.3" />
<polygon points="564.0,336.0 570.0,333.4 570.0,338.6" fill="#141414" stroke="none" stroke-width="0" stroke-linejoin="miter" />
<rect x="652.3" y="292.6" width="50.5" height="22.3" rx="2.5" fill="#c5e0b3" stroke="#141414" stroke-width="1.1" />
<rect x="652.3" y="325.6" width="51.1" height="22.2" rx="2.5" fill="#fdf2cc" stroke="#141414" stroke-width="1.1" />
<rect x="652.5" y="358.5" width="50.9" height="22.7" rx="2.5" fill="#c8e0f4" stroke="#141414" stroke-width="1.1" />
<text x="657.0" y="307.6" font-size="11.8" fill="#111111">1<tspan font-size="9.5" dy="1.2">×</tspan><tspan dy="-1.2">1Conv</tspan></text>
<text x="657.0" y="340.6" font-size="11.8" fill="#111111">1<tspan font-size="9.5" dy="1.2">×</tspan><tspan dy="-1.2">1Conv</tspan></text>
<text x="657.0" y="373.6" font-size="11.8" fill="#111111">1<tspan font-size="9.5" dy="1.2">×</tspan><tspan dy="-1.2">1Conv</tspan></text>
<line x1="652.3" y1="303.1" x2="622.6" y2="312.5" stroke="#141414" stroke-width="0.9" />
<line x1="652.3" y1="303.1" x2="622.6" y2="361.2" stroke="#141414" stroke-width="0.9" />
<line x1="652.3" y1="336.8" x2="622.6" y2="312.5" stroke="#141414" stroke-width="0.9" />
<line x1="652.3" y1="336.8" x2="622.6" y2="361.2" stroke="#141414" stroke-width="0.9" />
<line x1="652.3" y1="370.9" x2="622.6" y2="312.5" stroke="#141414" stroke-width="0.9" />
<line x1="652.3" y1="370.9" x2="622.6" y2="361.2" stroke="#141414" stroke-width="0.9" />
<line x1="652.3" y1="303.1" x2="627.6" y2="310.8" stroke="#141414" stroke-width="0.9" />
<polygon points="622.8,312.3 626.9,308.7 628.2,312.9" fill="#141414" stroke="none" stroke-width="0" stroke-linejoin="miter" />
<line x1="652.3" y1="370.9" x2="627.6" y2="362.9" stroke="#141414" stroke-width="0.9" />
<polygon points="622.8,361.4 628.2,360.8 626.9,365.0" fill="#141414" stroke="none" stroke-width="0" stroke-linejoin="miter" />
<line x1="610.5" y1="315.3" x2="595.5" y2="336.0" stroke="#141414" stroke-width="0.9" />
<line x1="610.5" y1="361.2" x2="595.5" y2="336.0" stroke="#141414" stroke-width="0.9" />
<line x1="722.0" y1="336.5" x2="733.0" y2="336.5" stroke="#141414" stroke-width="1.0" />
<line x1="722.0" y1="336.5" x2="705.7" y2="308.3" stroke="#141414" stroke-width="1.0" />
<polygon points="703.0,303.5 707.8,307.1 703.7,309.5" fill="#141414" stroke="none" stroke-width="0" stroke-linejoin="miter" />
<line x1="722.0" y1="336.5" x2="709.1" y2="336.5" stroke="#141414" stroke-width="1.0" />
<polygon points="703.6,336.5 709.1,334.1 709.1,338.9" fill="#141414" stroke="none" stroke-width="0" stroke-linejoin="miter" />
<line x1="722.0" y1="336.5" x2="706.3" y2="364.7" stroke="#141414" stroke-width="1.0" />
<polygon points="703.6,369.5 704.2,363.5 708.4,365.9" fill="#141414" stroke="none" stroke-width="0" stroke-linejoin="miter" />
<path d="M598 430 C612 429 625 436 636 442" fill="none" stroke="#1c1c1c" stroke-width="1.3"/>
<path d="M660 426 C654 428 653 432 653 437" fill="none" stroke="#1c1c1c" stroke-width="1.3"/>
<path d="M622 456 C628 455 632 453 636 450" fill="none" stroke="#1c1c1c" stroke-width="1.3"/>
<path d="M654 455 C662 459 670 458 681 457.5" fill="none" stroke="#1c1c1c" stroke-width="1.3"/>
<circle cx="587.5" cy="427.4" r="10.5" fill="#fff" stroke="#141414" stroke-width="1.2"/>
<circle cx="669.9" cy="420.8" r="10.5" fill="#fff" stroke="#141414" stroke-width="1.2"/>
<circle cx="646.4" cy="446.5" r="10.5" fill="#fff" stroke="#141414" stroke-width="1.2"/>
<circle cx="611.4" cy="458.7" r="10.5" fill="#fff" stroke="#141414" stroke-width="1.2"/>
<circle cx="691.4" cy="458.7" r="10.5" fill="#fff" stroke="#141414" stroke-width="1.2"/>
<text x="683.3" y="423.6" font-size="11.4" text-anchor="start" fill="#111111" >Nodes</text>
<rect x="763.8" y="285.8" width="119.5" height="175.7" rx="12" fill="#c9daf0" stroke="#8d9db5" stroke-width="0.9" />
<rect x="903.1" y="285.4" width="119.5" height="177.1" rx="12" fill="#c9daf0" stroke="#8d9db5" stroke-width="0.9" />
<rect x="766.5" y="296.4" width="102.9" height="15.3" rx="0" fill="#f8f2a3" stroke="#141414" stroke-width="1.1" />
<text x="818.0" y="307.6" font-size="11.7" text-anchor="middle" fill="#111111">BN</text>
<rect x="766.5" y="323.6" width="102.9" height="28.1" rx="11" fill="#d9d9d9" stroke="#141414" stroke-width="1.1" />
<text x="818.0" y="341.1" font-size="12" text-anchor="middle" fill="#111111">Spatial: GAT</text>
<rect x="769.5" y="363.9" width="96.9" height="28.0" rx="11" fill="#92cfcf" stroke="#141414" stroke-width="1.1" />
<text x="818.0" y="381.4" font-size="12" text-anchor="middle" fill="#111111">Temporal: LAC</text>
<rect x="769.5" y="401.9" width="96.9" height="28.0" rx="11" fill="#d9d9d9" stroke="#141414" stroke-width="1.1" />
<text x="818.0" y="419.4" font-size="12" text-anchor="middle" fill="#111111">Spatial: GAT</text>
<line x1="818.0" y1="311.7" x2="818.0" y2="318.6" stroke="#141414" stroke-width="1.2" />
<polygon points="818.0,323.6 815.4,318.6 820.6,318.6" fill="#141414" stroke="none" stroke-width="0" stroke-linejoin="miter" />
<line x1="818.0" y1="351.7" x2="818.0" y2="358.9" stroke="#141414" stroke-width="1.2" />
<polygon points="818.0,363.9 815.4,358.9 820.6,358.9" fill="#141414" stroke="none" stroke-width="0" stroke-linejoin="miter" />
<line x1="818.0" y1="391.9" x2="818.0" y2="396.9" stroke="#141414" stroke-width="1.2" />
<polygon points="818.0,401.9 815.4,396.9 820.6,396.9" fill="#141414" stroke="none" stroke-width="0" stroke-linejoin="miter" />
<line x1="818.0" y1="429.9" x2="818.0" y2="435.2" stroke="#141414" stroke-width="1.2" />
<polygon points="818.0,440.2 815.4,435.2 820.6,435.2" fill="#141414" stroke="none" stroke-width="0" stroke-linejoin="miter" />
<circle cx="818.0" cy="447.4" r="6.6" fill="#fbe6a2" stroke="#141414" stroke-width="1.2"/>
<line x1="813.8" y1="447.4" x2="822.2" y2="447.4" stroke="#141414" stroke-width="1.1" />
<line x1="818.0" y1="443.2" x2="818.0" y2="451.6" stroke="#141414" stroke-width="1.1" />
<rect x="905.2" y="296.4" width="104.5" height="15.3" rx="0" fill="#f8f2a3" stroke="#141414" stroke-width="1.1" />
<text x="957.5" y="307.6" font-size="11.7" text-anchor="middle" fill="#111111">BN</text>
<rect x="905.2" y="323.6" width="104.5" height="28.1" rx="11" fill="#92cfcf" stroke="#141414" stroke-width="1.1" />
<text x="957.5" y="341.1" font-size="12" text-anchor="middle" fill="#111111">Temporal: LAC</text>
<rect x="905.2" y="363.9" width="104.5" height="28.0" rx="11" fill="#d9d9d9" stroke="#141414" stroke-width="1.1" />
<text x="957.5" y="381.4" font-size="12" text-anchor="middle" fill="#111111">Spatial: GAT</text>
<rect x="905.2" y="401.9" width="104.5" height="28.0" rx="11" fill="#92cfcf" stroke="#141414" stroke-width="1.1" />
<text x="957.5" y="419.4" font-size="12" text-anchor="middle" fill="#111111">Temporal: LAC</text>
<line x1="957.5" y1="311.7" x2="957.5" y2="318.6" stroke="#141414" stroke-width="1.2" />
<polygon points="957.5,323.6 954.9,318.6 960.1,318.6" fill="#141414" stroke="none" stroke-width="0" stroke-linejoin="miter" />
<line x1="957.5" y1="351.7" x2="957.5" y2="358.9" stroke="#141414" stroke-width="1.2" />
<polygon points="957.5,363.9 954.9,358.9 960.1,358.9" fill="#141414" stroke="none" stroke-width="0" stroke-linejoin="miter" />
<line x1="957.5" y1="391.9" x2="957.5" y2="396.9" stroke="#141414" stroke-width="1.2" />
<polygon points="957.5,401.9 954.9,396.9 960.1,396.9" fill="#141414" stroke="none" stroke-width="0" stroke-linejoin="miter" />
<line x1="957.5" y1="429.9" x2="957.5" y2="435.2" stroke="#141414" stroke-width="1.2" />
<polygon points="957.5,440.2 954.9,435.2 960.1,435.2" fill="#141414" stroke="none" stroke-width="0" stroke-linejoin="miter" />
<circle cx="957.5" cy="447.4" r="6.6" fill="#fbe6a2" stroke="#141414" stroke-width="1.2"/>
<line x1="953.2" y1="447.4" x2="961.7" y2="447.4" stroke="#141414" stroke-width="1.1" />
<line x1="957.5" y1="443.2" x2="957.5" y2="451.6" stroke="#141414" stroke-width="1.1" />
<polyline points="869.4,304.3 879,304.3 879,447.4 829,447.4" fill="none" stroke="#1c1c1c" stroke-width="1.3"/>
<line x1="836.0" y1="447.4" x2="829.7" y2="447.4" stroke="#141414" stroke-width="1.3" />
<polygon points="824.2,447.4 829.7,444.8 829.7,450.0" fill="#141414" stroke="none" stroke-width="0" stroke-linejoin="miter" />
<line x1="818.0" y1="279.8" x2="818.0" y2="290.9" stroke="#141414" stroke-width="1.3" />
<polygon points="818.0,296.4 815.4,290.9 820.6,290.9" fill="#141414" stroke="none" stroke-width="0" stroke-linejoin="miter" />
<line x1="818.0" y1="454.4" x2="818.0" y2="466.3" stroke="#141414" stroke-width="1.3" />
<polygon points="818.0,471.8 815.4,466.3 820.6,466.3" fill="#141414" stroke="none" stroke-width="0" stroke-linejoin="miter" />
<text x="790.6" y="460.8" font-size="10.5" text-anchor="start" fill="#111111" >ReLU</text>
<polyline points="1009.7,304.3 1019,304.3 1019,447.4 970,447.4" fill="none" stroke="#1c1c1c" stroke-width="1.3"/>
<line x1="975.0" y1="447.4" x2="968.3" y2="447.4" stroke="#141414" stroke-width="1.3" />
<polygon points="962.8,447.4 968.3,444.8 968.3,450.0" fill="#141414" stroke="none" stroke-width="0" stroke-linejoin="miter" />
<line x1="957.5" y1="278.0" x2="957.5" y2="290.9" stroke="#141414" stroke-width="1.3" />
<polygon points="957.5,296.4 954.9,290.9 960.1,290.9" fill="#141414" stroke="none" stroke-width="0" stroke-linejoin="miter" />
<polyline points="957.5,454.4 957.5,469.8 892.6,469.8 892.6,279.8 818,279.8" fill="none" stroke="#1c1c1c" stroke-width="1.3"/>
<polygon points="769.0,424.6 723.0,437.9 722.2,435.0 714.4,444.0 725.8,447.5 725.0,444.6 771.0,431.4" fill="#d5e2bd" stroke="#141414" stroke-width="1.0" stroke-linejoin="miter" />
<polygon points="771.8,366.3 741.6,340.3 743.5,338.0 731.7,336.4 735.0,347.9 737.0,345.6 767.2,371.7" fill="#d5e2bd" stroke="#141414" stroke-width="1.0" stroke-linejoin="miter" />
<polygon points="1049.7,288.0 1037.3,288.0 1037.3,284.9 1028.3,291.6 1037.3,298.4 1037.3,295.2 1049.7,295.2" fill="#d5e2bd" stroke="#141414" stroke-width="1.0" stroke-linejoin="miter" />
<polyline points="1051.7,272.2 1219.2,272.2 1219.2,313.3 1051.7,313.3" fill="none" stroke="#141414" stroke-width="1.6" stroke-dasharray="10.8 6.77" stroke-dashoffset="4.1"/>
<polyline points="1051.7,313.3 1051.7,272.2" fill="none" stroke="#141414" stroke-width="1.6" stroke-dasharray="10.8 6.77" stroke-dashoffset="15.07"/>
<rect x="1054.4" y="274.0" width="162.6" height="36.0" rx="0" fill="#b4c7e7" stroke="#141414" stroke-width="1.2" />
<text x="1135.8" y="296.4" font-size="14.6" text-anchor="middle" fill="#111111" >A-STFEM</text>
<rect x="1054.4" y="327.4" width="162.6" height="36.4" rx="0" fill="#f8c6a4" stroke="#141414" stroke-width="1.2" />
<text x="1135.5" y="349.9" font-size="14.8" text-anchor="middle" fill="#111111" >Average pooling</text>
<rect x="1054.4" y="381.4" width="162.6" height="35.3" rx="0" fill="#b4e0dd" stroke="#141414" stroke-width="1.2" />
<text x="1135.3" y="403.8" font-size="14.65" text-anchor="middle" fill="#111111" >Output module</text>
<rect x="1054.4" y="434.9" width="162.6" height="35.3" rx="0" fill="#dadadc" stroke="#141414" stroke-width="1.2" />
<text x="1135.2" y="456.8" font-size="14.5" text-anchor="middle" fill="#111111" >Softmax</text>
<line x1="1136.0" y1="313.3" x2="1136.0" y2="321.9" stroke="#141414" stroke-width="1.2" />
<polygon points="1136.0,327.4 1133.4,321.9 1138.6,321.9" fill="#141414" stroke="none" stroke-width="0" stroke-linejoin="miter" />
<line x1="1136.0" y1="363.8" x2="1136.0" y2="375.9" stroke="#141414" stroke-width="1.2" />
<polygon points="1136.0,381.4 1133.4,375.9 1138.6,375.9" fill="#141414" stroke="none" stroke-width="0" stroke-linejoin="miter" />
<line x1="1136.0" y1="416.7" x2="1136.0" y2="429.4" stroke="#141414" stroke-width="1.2" />
<polygon points="1136.0,434.9 1133.4,429.4 1138.6,429.4" fill="#141414" stroke="none" stroke-width="0" stroke-linejoin="miter" />
<polygon points="545.0,358.1 504.1,358.1 504.1,353.3 493.4,363.0 504.1,372.7 504.1,367.9 545.0,367.9" fill="#fff" stroke="#141414" stroke-width="1.2" stroke-linejoin="miter" />
<rect x="329.3" y="244.0" width="162.3" height="236.5" rx="0" fill="none" stroke="#141414" stroke-width="1.8" />
<rect x="337.1" y="246.4" width="144.7" height="24.4" rx="0" fill="#e2efd9" stroke="none" stroke-width="0" />
<text x="355.5" y="262.7" font-size="15.8" text-anchor="start" fill="#111111" >Diagnosis Result</text>
<circle cx="366.6" cy="289.3" r="10.3" fill="#fdd98a" stroke="#141414" stroke-width="1.7"/>
<text x="407.1" y="296.9" font-size="13.6" text-anchor="start" fill="#111111" >Fault 1</text>
<circle cx="366.6" cy="326.0" r="10.3" fill="#fdd98a" stroke="#141414" stroke-width="1.7"/>
<text x="407.1" y="334.1" font-size="13.6" text-anchor="start" fill="#111111" >Fault 2</text>
<circle cx="366.6" cy="361.9" r="10.3" fill="#fdd98a" stroke="#141414" stroke-width="1.7"/>
<text x="407.1" y="368.0" font-size="13.6" text-anchor="start" fill="#111111" >Fault 3</text>
<circle cx="366.6" cy="396.2" r="10.3" fill="#fdd98a" stroke="#141414" stroke-width="1.7"/>
<text x="406.6" y="406.0" font-size="13.6" text-anchor="start" fill="#111111" >Fault 4</text>
<circle cx="366.6" cy="430.5" r="10.3" fill="#fdd98a" stroke="#141414" stroke-width="1.7"/>
<text x="406.6" y="437.8" font-size="13.6" text-anchor="start" fill="#111111" >Fault 5</text>
<circle cx="366.6" cy="463.7" r="10.3" fill="#a8d08d" stroke="#141414" stroke-width="1.7"/>
<text x="398.1" y="469.8" font-size="13.9" text-anchor="start" fill="#111111" >Fault 0(Health)</text>
<polygon points="327.6,358.2 290.5,358.2 290.5,353.4 279.6,363.0 290.5,372.6 290.5,367.8 327.6,367.8" fill="#fff" stroke="#141414" stroke-width="1.2" stroke-linejoin="miter" />
<rect x="39.3" y="244.0" width="239.9" height="234.0" rx="0" fill="none" stroke="#141414" stroke-width="1.8" />
<rect x="94.5" y="246.4" width="136.3" height="24.4" rx="0" fill="#e2efd9" stroke="none" stroke-width="0" />
<text x="100.7" y="262.2" font-size="15.55" text-anchor="start" fill="#111111" >Diagnosis Analysis</text>
<rect x="63.6" y="332.4" width="9.4" height="121.3" fill="#f0656a"/>
<rect x="75.3" y="385.8" width="9.2" height="67.9" fill="#a3a5d3"/>
<rect x="86.7" y="397.2" width="9.3" height="56.5" fill="#c4d69c"/>
<rect x="116.0" y="383.3" width="9.4" height="70.4" fill="#f0656a"/>
<rect x="127.7" y="329.5" width="9.2" height="124.2" fill="#a3a5d3"/>
<rect x="139.1" y="397.2" width="9.3" height="56.5" fill="#c4d69c"/>
<rect x="167.5" y="355" width="9.4" height="98.7" fill="#f0656a"/>
<rect x="179.2" y="402.9" width="9.2" height="50.8" fill="#a3a5d3"/>
<rect x="190.6" y="369.2" width="9.3" height="84.5" fill="#c4d69c"/>
<rect x="219.8" y="327" width="9.4" height="126.7" fill="#f0656a"/>
<rect x="231.5" y="374.9" width="9.2" height="78.8" fill="#a3a5d3"/>
<rect x="242.9" y="312.8" width="9.3" height="140.9" fill="#c4d69c"/>
<polyline points="56,307 56,461.5 268,461.5" fill="none" stroke="#1c1c1c" stroke-width="1.6"/>
<polygon points="56.0,306.8 53.0,313.8 59.0,313.8" fill="#141414" stroke="none" stroke-width="0" stroke-linejoin="miter" />
<polygon points="268.1,461.5 261.1,458.5 261.1,464.5" fill="#141414" stroke="none" stroke-width="0" stroke-linejoin="miter" />
<text x="35.4" y="510.0" font-size="18" text-anchor="start" fill="#111" >Fig.</text>
<text x="71.0" y="510.0" font-size="18" text-anchor="start" fill="#111" >7.</text>
<text x="98.4" y="510.0" font-size="18" text-anchor="start" fill="#111" >Robot</text>
<text x="150.4" y="510.0" font-size="18" text-anchor="start" fill="#111" >fault</text>
<text x="190.1" y="510.0" font-size="18" text-anchor="start" fill="#111" >diagnosis</text>
<text x="268.1" y="510.0" font-size="18" text-anchor="start" fill="#111" >framework.</text>
</svg></body></html>
